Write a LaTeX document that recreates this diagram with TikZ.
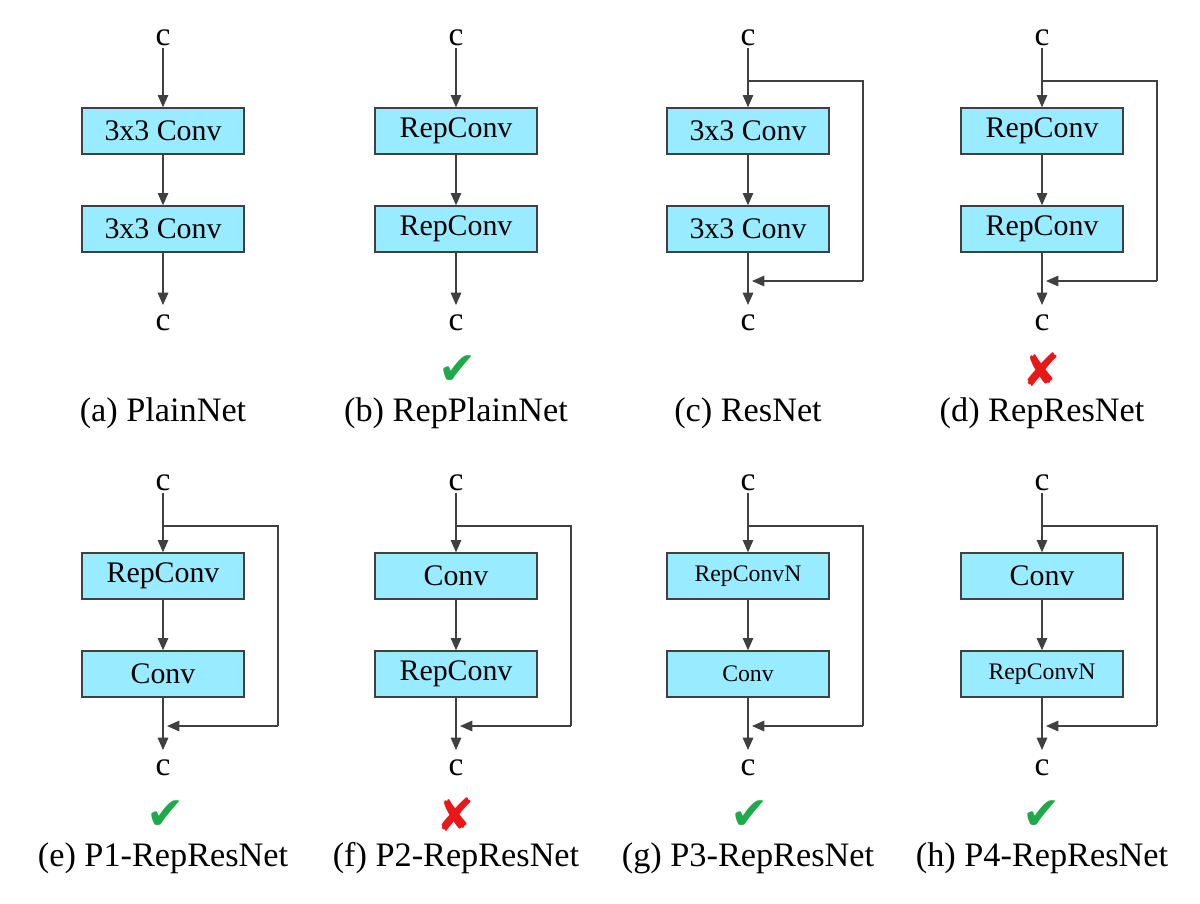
\documentclass[tikz,border=0pt]{standalone}
\usepackage{fontspec}
\setmainfont{Liberation Serif}
\newfontfamily\symf{DejaVu Sans}
\usetikzlibrary{arrows.meta}
\definecolor{boxfill}{HTML}{99EBFF}
\definecolor{ln}{HTML}{404040}
\definecolor{okg}{HTML}{1FAA4A}
\definecolor{badr}{HTML}{E81818}
\begin{document}
\begin{tikzpicture}[x=0.02cm,y=-0.02cm,
  box/.style={draw=ln,line width=0.8pt,fill=boxfill,minimum width=162*0.02cm,minimum height=46*0.02cm,inner sep=0pt,font=\fontsize{17}{20}\selectfont},
  sbox/.style={box,font=\fontsize{13.5}{16}\selectfont},
  cl/.style={font=\fontsize{19}{22}\selectfont,inner sep=1pt},
  lab/.style={font=\fontsize{19.5}{23}\selectfont},
  arr/.style={draw=ln,line width=0.7pt,-{Triangle[length=7pt,width=6pt]}},
  ln/.style={draw=ln,line width=0.7pt},
  ok/.style={font=\symf\fontsize{26}{28}\selectfont,text=okg},
  bad/.style={font=\symf\fontsize{26}{28}\selectfont,text=badr}]
\useasboundingbox (0,0) rectangle (1200,903);
% col: #1 name, #2 x, #3 y0 (row offset), #4 t1, #5 t2, #6 style1, #7 style2, #8 label, #9 res
\newcommand{\blk}[9]{%
  \node[cl] (#1ci) at (#2,#3+38) {c};
  \node[#6] (#1b1) at (#2,#3+131) {#4};
  \node[#7] (#1b2) at (#2,#3+229) {#5};
  \node[cl] (#1co) at (#2,#3+323) {c};
  \coordinate (#1e) at (#2,#3+305);
  \draw[arr] (#1ci) -- (#1b1);
  \draw[arr] (#1b1) -- (#1b2);
  \draw[arr] (#1b2) -- (#1e);
  \node[lab] (#1l) at (#2,#3+413) {#8};
  \ifcase#9\or
    \coordinate (#1s) at (#2,#3+81);
    \coordinate (#1r1) at (#2+115,#3+81);
    \coordinate (#1r2) at (#2+115,#3+281);
    \coordinate (#1t) at (#2,#3+281);
    \draw[ln] (#1s) -- (#1r1) -- (#1r2);
    \draw[arr] (#1r2) -- ([xshift=4*0.02cm]#1t);
  \fi}
\blk{a}{163}{0}{3x3 Conv}{3x3 Conv}{box}{box}{(a) PlainNet}{0}
\blk{b}{456}{0}{RepConv}{RepConv}{box}{box}{(b) RepPlainNet}{0}
\blk{c}{748}{0}{3x3 Conv}{3x3 Conv}{box}{box}{(c) ResNet}{1}
\blk{d}{1042}{0}{RepConv}{RepConv}{box}{box}{(d) RepResNet}{1}
\blk{e}{163}{445}{RepConv}{Conv}{box}{box}{(e) P1-RepResNet}{1}
\blk{f}{456}{445}{Conv}{RepConv}{box}{box}{(f) P2-RepResNet}{1}
\blk{g}{748}{445}{RepConvN}{Conv}{sbox}{sbox}{(g) P3-RepResNet}{1}
\blk{h}{1042}{445}{Conv}{RepConvN}{box}{sbox}{(h) P4-RepResNet}{1}
\node[ok] (bm) at (458,370) {✔};
\node[bad] (dm) at (1042,370) {✘};
\node[ok] (em) at (166,815) {✔};
\node[bad] (fm) at (456,815) {✘};
\node[ok] (gm) at (750,815) {✔};
\node[ok] (hm) at (1042,815) {✔};
\end{tikzpicture}
\end{document}
